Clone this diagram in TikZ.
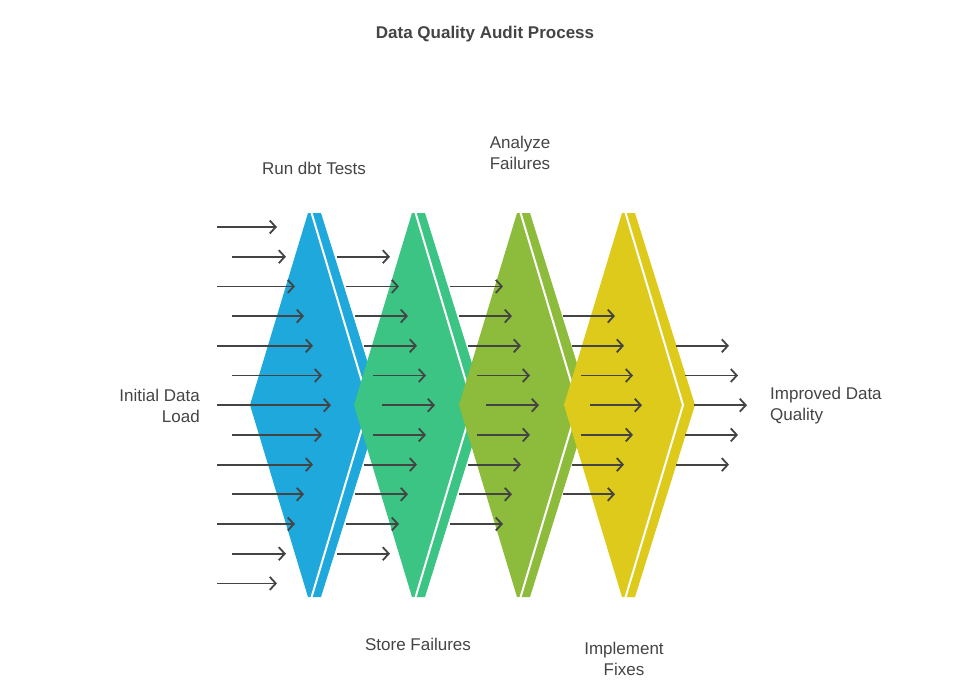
\documentclass[tikz,border=0pt]{standalone}
\usepackage{fontspec}
\setmainfont{Liberation Sans}
\usetikzlibrary{arrows.meta}
\definecolor{cblue}{HTML}{1EA8DB}
\definecolor{cgreen}{HTML}{3CC484}
\definecolor{cyg}{HTML}{8DBB3C}
\definecolor{cyel}{HTML}{DDCA1A}
\definecolor{ink}{HTML}{444444}
\begin{document}
\begin{tikzpicture}[x=1pt,y=-1pt,
  arr/.style={draw=ink,line width=1.8pt,-{Straight Barb[length=6pt,width=13pt,line width=1.8pt]}},
  lab/.style={font=\fontsize{17}{21}\selectfont,text=ink,align=center,inner sep=0pt}]
\useasboundingbox (0,0) rectangle (965,695);
% chevrons
\foreach \x/\c in {308/cblue,412/cgreen,517/cyg,622/cyel}{
  \fill[\c] (\x,213) -- (\x+13,213) -- (\x+73,405) -- (\x+13,597) -- (\x,597) -- (\x-58,405) -- cycle;
  \draw[white,line width=2pt] (\x+3,211) -- (\x+61,405) -- (\x+3,599);
}
% arrows group 1
\foreach \k in {0,...,12}{
  \pgfmathsetmacro{\yy}{227+\k*29.7}
  \pgfmathsetmacro{\xs}{mod(\k,2)==0 ? 217 : 232}
  \pgfmathsetmacro{\xe}{331-abs(\k-6)*9}
  \coordinate (a\k) at (\xs,\yy); \coordinate (b\k) at (\xe,\yy);
  \draw[arr] (a\k) -- (b\k);
}
% group 2
\foreach \k in {1,...,11}{
  \pgfmathsetmacro{\yy}{227+\k*29.7}
  \pgfmathsetmacro{\d}{(5-abs(\k-6))*9}
  \coordinate (c\k) at (337+\d,\yy); \coordinate (d\k) at (390+\d,\yy);
  \draw[arr] (c\k) -- (d\k);
}
% group 3
\foreach \k in {2,...,10}{
  \pgfmathsetmacro{\yy}{227+\k*29.7}
  \pgfmathsetmacro{\d}{(4-abs(\k-6))*9}
  \coordinate (e\k) at (450+\d,\yy); \coordinate (f\k) at (503+\d,\yy);
  \draw[arr] (e\k) -- (f\k);
}
% group 4
\foreach \k in {3,...,9}{
  \pgfmathsetmacro{\yy}{227+\k*29.7}
  \pgfmathsetmacro{\d}{(3-abs(\k-6))*9}
  \coordinate (g\k) at (563+\d,\yy); \coordinate (h\k) at (615+\d,\yy);
  \draw[arr] (g\k) -- (h\k);
}
% group 5
\foreach \k in {4,...,8}{
  \pgfmathsetmacro{\yy}{227+\k*29.7}
  \pgfmathsetmacro{\d}{(2-abs(\k-6))*9}
  \coordinate (i\k) at (676+\d,\yy); \coordinate (j\k) at (729+\d,\yy);
  \draw[arr] (i\k) -- (j\k);
}
% labels
\node[lab,font=\fontsize{17}{21}\selectfont\bfseries] (title) at (485,34) {Data Quality Audit Process};
\node[lab] (run) at (314,168) {Run dbt Tests};
\node[lab] (ana) at (520,153) {Analyze\\Failures};
\node[lab] (sto) at (418,644) {Store Failures};
\node[lab] (imp) at (624,659) {Implement\\Fixes};
\node[lab,align=right,anchor=east] (ini) at (200,406) {Initial Data\\Load};
\node[lab,align=left,anchor=west] (imq) at (770,406) {Improved Data\\Quality};
\end{tikzpicture}
\end{document}
